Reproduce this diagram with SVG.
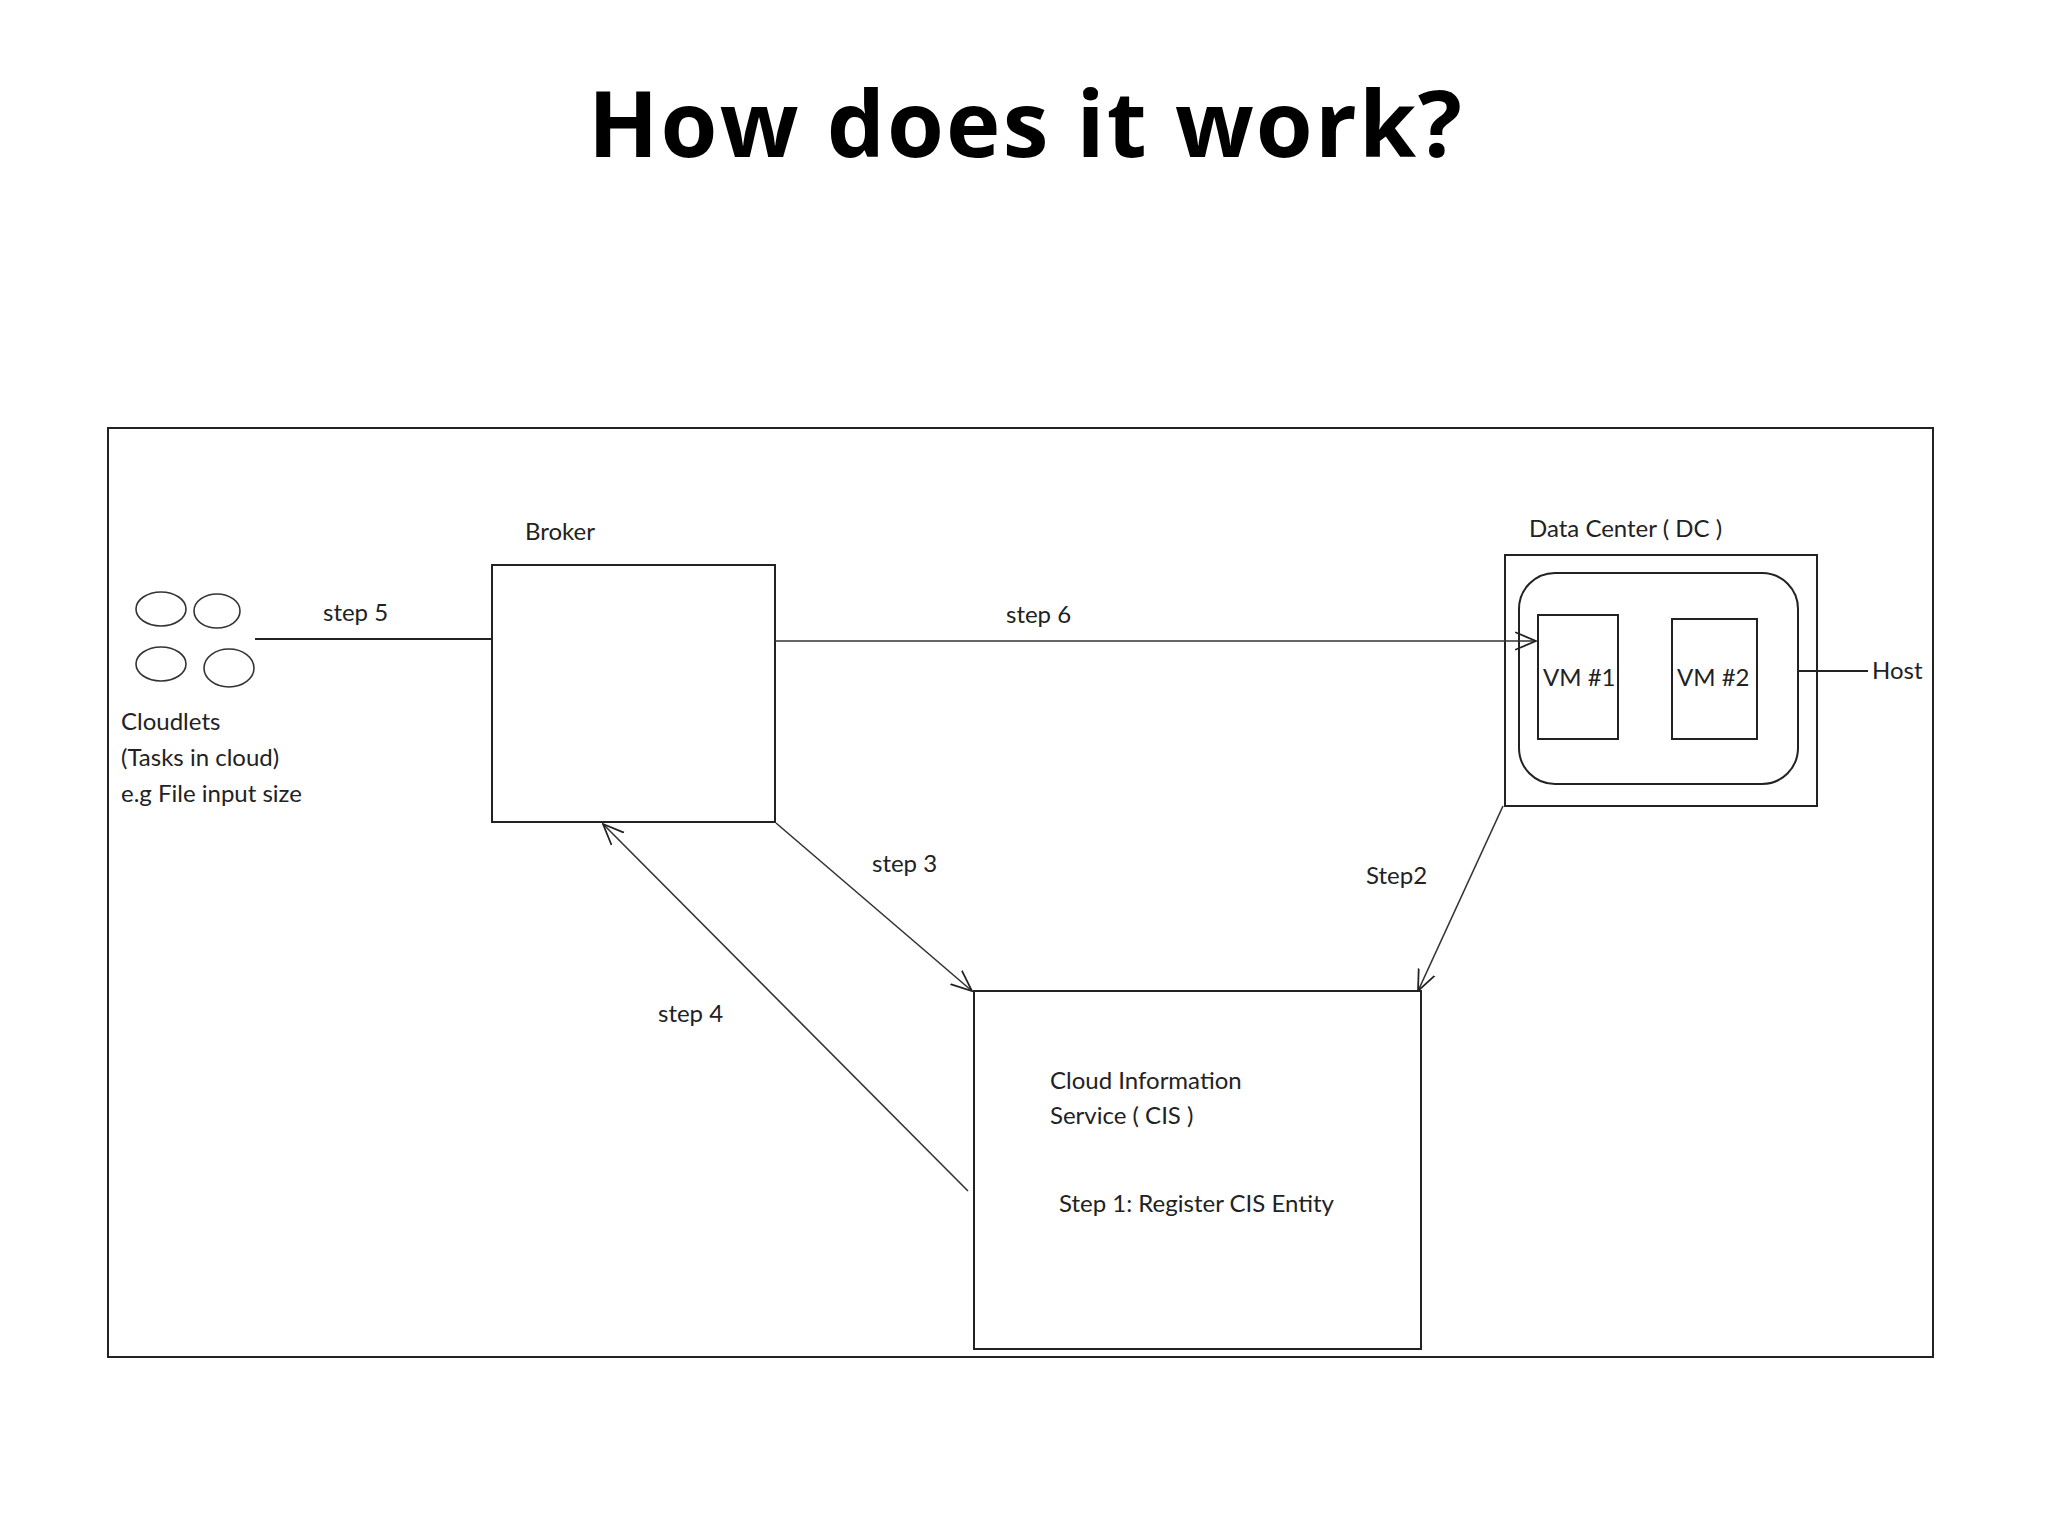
<svg xmlns="http://www.w3.org/2000/svg" width="2048" height="1536" viewBox="0 0 2048 1536">
<style>
.t{font-family:Lato,"Open Sans","Liberation Sans",sans-serif;font-size:24px;fill:#222}
.s{fill:none;stroke:#222;stroke-width:2}
.c{fill:none;stroke:#333;stroke-width:1.6}
</style>
<defs>
<marker id="a" viewBox="0 0 20 20" refX="19" refY="10" markerWidth="22" markerHeight="22" markerUnits="userSpaceOnUse" orient="auto">
<path d="M0,2 L19,10 L0,18" fill="none" stroke="#222" stroke-width="1.6"/>
</marker>
</defs>
<rect width="2048" height="1536" fill="#fff"/>
<text x="1025" y="157" text-anchor="middle" font-family="'Open Sans','Liberation Sans',sans-serif" font-weight="bold" font-size="92" textLength="874" fill="#000">How does it work?</text>
<rect id="frame" x="108" y="428" width="1825" height="929" class="s"/>
<g id="cloudlets">
<ellipse cx="161" cy="609" rx="25" ry="17" class="c"/>
<ellipse cx="217" cy="611" rx="23" ry="17" class="c"/>
<ellipse cx="161" cy="664" rx="25" ry="17" class="c"/>
<ellipse cx="229" cy="668" rx="25" ry="19" class="c"/>
<text class="t" x="121" y="730">Cloudlets</text>
<text class="t" x="121" y="766">(Tasks in cloud)</text>
<text class="t" x="121" y="802">e.g File input size</text>
</g>
<g id="broker">
<rect x="492" y="565" width="283" height="257" class="s"/>
<text class="t" x="525" y="540">Broker</text>
</g>
<g id="datacenter">
<rect x="1505" y="555" width="312" height="251" class="s"/>
<rect x="1519" y="573" width="279" height="211" rx="36" class="s"/>
<text class="t" x="1529" y="537">Data Center ( DC )</text>
<line x1="1798" y1="671" x2="1868" y2="671" class="s"/>
<text class="t" x="1872" y="679">Host</text>
</g>
<g id="vm1"><rect x="1538" y="615" width="80" height="124" class="s"/><text class="t" x="1543" y="686">VM #1</text></g>
<g id="vm2"><rect x="1672" y="619" width="85" height="120" class="s"/><text class="t" x="1677" y="686">VM #2</text></g>
<g id="cis">
<rect x="974" y="991" width="447" height="358" class="s"/>
<text class="t" x="1050" y="1089">Cloud Information</text>
<text class="t" x="1050" y="1124">Service ( CIS )</text>
<text class="t" x="1059" y="1212">Step 1: Register CIS Entity</text>
</g>
<g id="connectors">
<line x1="255" y1="639" x2="492" y2="639" class="s"/>
<text class="t" x="323" y="621">step 5</text>
<line x1="775" y1="641" x2="1536" y2="641" class="c" marker-end="url(#a)"/>
<text class="t" x="1006" y="623">step 6</text>
<line x1="1503" y1="806" x2="1418" y2="991" class="c" marker-end="url(#a)"/>
<text class="t" x="1366" y="884">Step2</text>
<line x1="776" y1="823" x2="972" y2="991" class="c" marker-end="url(#a)"/>
<text class="t" x="872" y="872">step 3</text>
<line x1="968" y1="1191" x2="603" y2="824" class="c" marker-end="url(#a)"/>
<text class="t" x="658" y="1022">step 4</text>
</g>
</svg>
